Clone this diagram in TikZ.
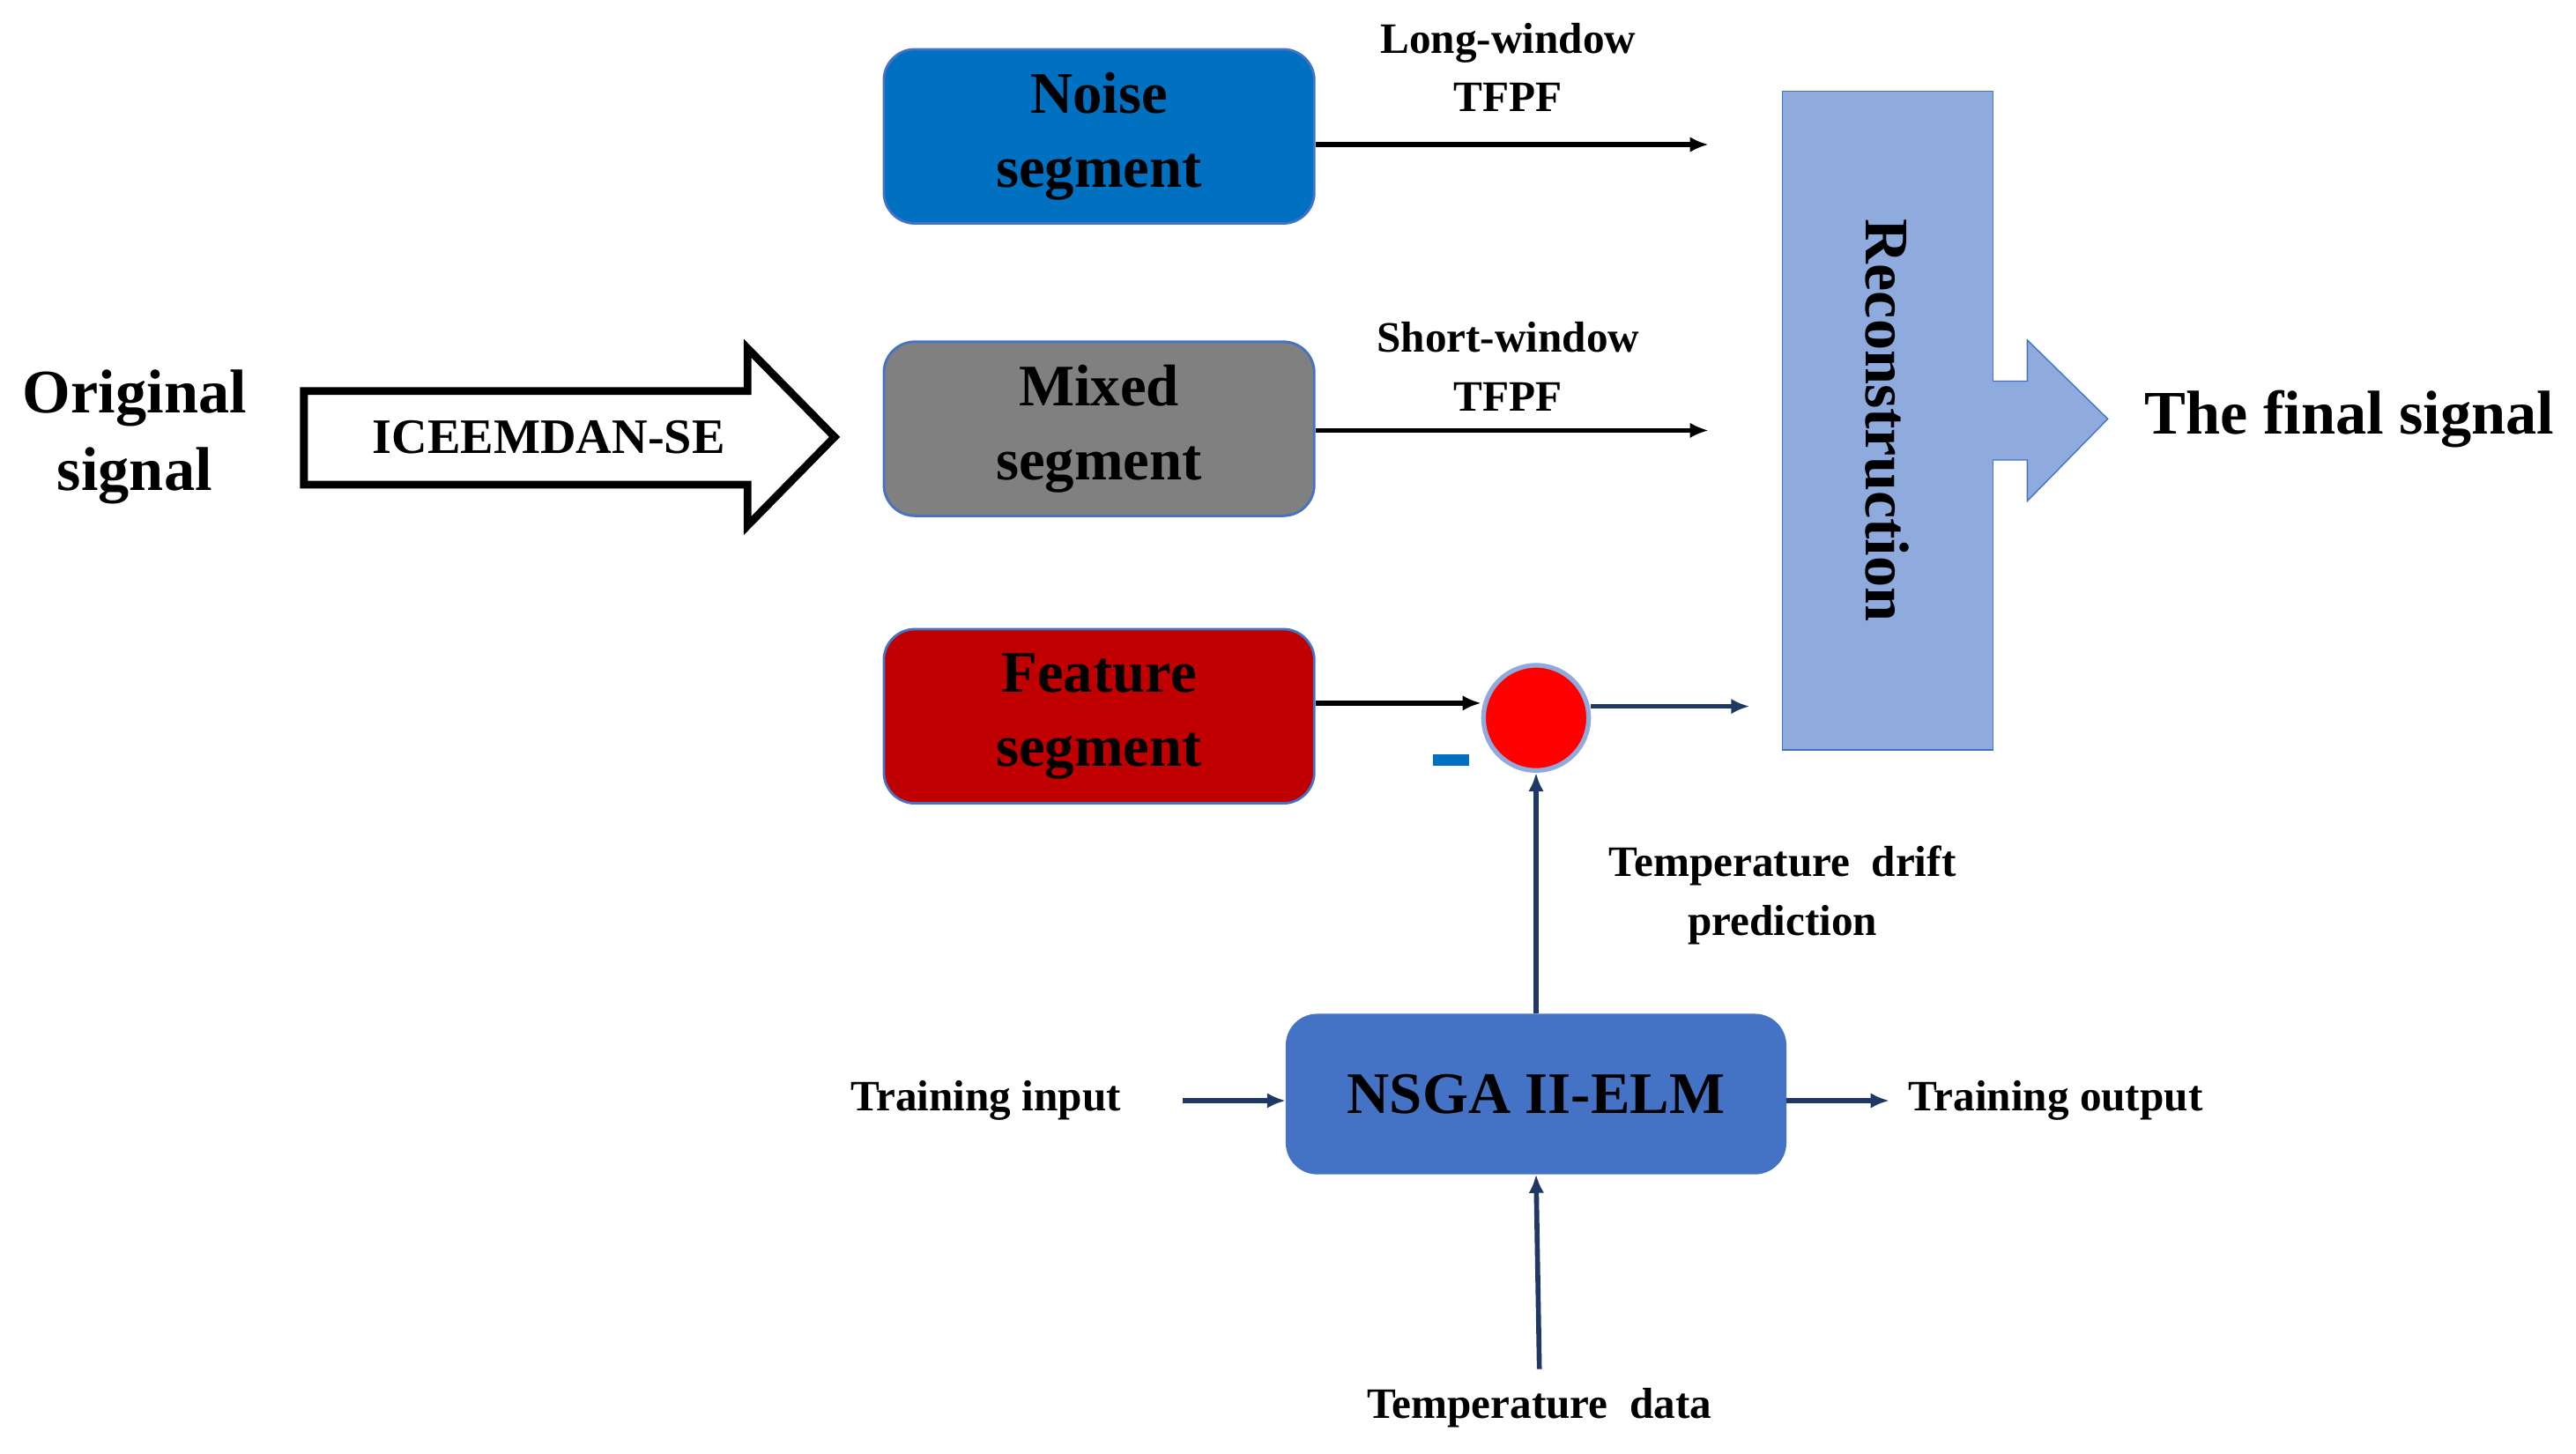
\documentclass[tikz,border=0pt]{standalone}
\usepackage{fontspec}
\setmainfont{Liberation Serif}
\usetikzlibrary{arrows.meta}
\definecolor{noiseblue}{RGB}{0,112,192}
\definecolor{mixgray}{RGB}{128,128,128}
\definecolor{featred}{RGB}{192,0,0}
\definecolor{recblue}{RGB}{143,170,220}
\definecolor{elmblue}{RGB}{68,114,196}
\definecolor{navy}{RGB}{31,56,100}
\begin{document}
\begin{tikzpicture}[x=0.018642cm,y=-0.018642cm,
  seg/.style={draw=elmblue,thick,rounded corners=10pt,minimum width=262*0.018642cm,
    minimum height=106*0.018642cm,align=center,font=\fontsize{19}{24}\selectfont\bfseries},
  lab/.style={align=center,font=\fontsize{14}{19}\selectfont\bfseries},
  big/.style={align=center,font=\fontsize{20}{25}\selectfont\bfseries},
  arr/.style={-{Latex[length=6pt,width=5pt]},line width=1.6pt,black},
  narr/.style={-{Latex[length=6pt,width=5pt]},line width=1.6pt,navy}]
\useasboundingbox (0,0) rectangle (1568,885);
% segments
\node[seg,fill=noiseblue] (noise) at (669,83) {Noise\\segment};
\node[seg,fill=mixgray] (mixed) at (669,261) {Mixed\\segment};
\node[seg,fill=featred] (feat) at (669,436) {Feature\\segment};
% reconstruction
\node[draw=elmblue,fill=recblue,minimum width=128*0.018642cm,minimum height=401*0.018642cm] (rec) at (1149,256) {};
\node[rotate=-90,font=\fontsize{20}{24}\selectfont\bfseries] at (rec) {Reconstruction};
\fill[recblue] (1213,232) -- (1234,232) -- (1234,207) -- (1283,255) -- (1234,305) -- (1234,280) -- (1213,280) -- cycle;
\draw[elmblue] (1213,232) -- (1234,232) -- (1234,207) -- (1283,255) -- (1234,305) -- (1234,280) -- (1213,280);
\node[big] (final) at (1430,255) {The final signal};
% input
\node[big] (orig) at (82,266) {Original\\signal};
\draw[line width=2.5pt,line join=miter] (185,238) -- (455,238) -- (455,212) -- (508,266) -- (455,320) -- (455,295) -- (185,295) -- cycle;
\node[font=\fontsize{16}{20}\selectfont\bfseries] (ice) at (334,266) {ICEEMDAN-SE};
% outputs
\coordinate (n1) at (1040,88);
\coordinate (m1) at (1040,262);
\draw[arr] (noise.east |- n1) -- (n1);
\draw[arr] (mixed.east |- m1) -- (m1);
\node[lab] at (918,41) {Long-window\\TFPF};
\node[lab] at (918,223) {Short-window\\TFPF};
% sum junction
\node[circle,fill=red,draw=recblue,line width=1.5pt,minimum size=64*0.018642cm] (sum) at (935,437) {};
\draw[arr] (feat.east |- 0,428) -- (sum.west |- 0,428);
\coordinate (s1) at (1065,430);
\draw[narr] (sum.east |- s1) -- (s1);
\fill[noiseblue] (872,459) rectangle (894,466);
% ELM
\node[draw=elmblue,fill=elmblue,rounded corners=10pt,minimum width=304*0.018642cm,minimum height=97*0.018642cm,
  font=\fontsize{19}{24}\selectfont\bfseries] (elm) at (935,666) {NSGA II-ELM};
\draw[narr] (elm.north) -- (sum.south);
\node[lab] at (1085,545) {Temperature\ \ drift\\prediction};
\node[lab] (tin) at (600,670) {Training input};
\coordinate (ti) at (720,670);
\draw[narr] (ti) -- (elm.west |- ti);
\coordinate (to) at (1150,670);
\draw[narr] (elm.east |- to) -- (to);
\node[lab,anchor=west] (tout) at (1155,670) {Training output};
\node[lab] (tdata) at (937,857) {Temperature\ \ data};
\draw[narr] (tdata.north) ++(0,-5) -- (elm.south);
\end{tikzpicture}
\end{document}
